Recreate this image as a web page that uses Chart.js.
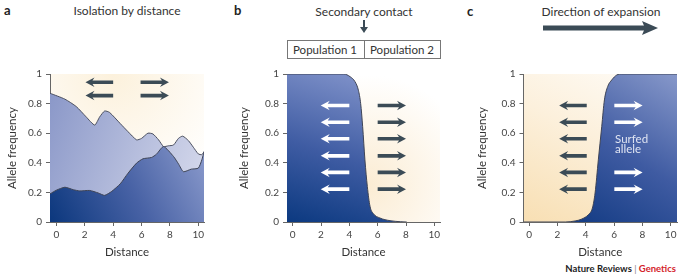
<!DOCTYPE html>
<html>
<head>
<meta charset="utf-8">
<script src="https://cdn.jsdelivr.net/npm/chart.js@4.4.1/dist/chart.umd.min.js"></script>
<style>
  body { margin: 0; width: 685px; height: 279px; position: relative; overflow: hidden; background: #fff;
         font-family: Lato, "Open Sans", sans-serif; color: #333; }
  canvas { position: absolute; top: 60px; }
  .txt { position: absolute; white-space: nowrap; line-height: 1; }
  .mid { transform: translateX(-50%); }
  .tag { font-weight: bold; font-size: 13px; color: #222; }
  .head { font-size: 12px; }
  .box { position: absolute; left: 287px; top: 40px; width: 154px; height: 19px; box-sizing: border-box;
         border: 1px solid #777; }
  .box .sep { position: absolute; left: 76px; top: 0; bottom: 0; border-left: 1px solid #777; }
  .foot { position: absolute; right: 9px; top: 264px; font-size: 9.5px; font-weight: bold; color: #222; line-height: 1; }
  .foot .red { color: #d4242b; }
</style>
</head>
<body>
<div class="txt tag" style="left:4px;top:4px">a</div>
<div class="txt head mid" style="left:127px;top:5px">Isolation by distance</div>

<div class="txt tag" style="left:234px;top:4px">b</div>
<div class="txt head mid" style="left:364px;top:6px">Secondary contact</div>
<svg style="position:absolute;left:358px;top:19px" width="12" height="15">
  <rect x="5" y="1" width="2" height="8" fill="#3b4b56"/>
  <polygon points="2,8 10,8 6,14" fill="#3b4b56"/>
</svg>
<div class="box"><div class="sep"></div></div>
<div class="txt head mid" style="left:325px;top:44px;font-size:11.5px">Population 1</div>
<div class="txt head mid" style="left:402px;top:44px;font-size:11.5px">Population 2</div>

<div class="txt tag" style="left:467px;top:5px">c</div>
<div class="txt head mid" style="left:601px;top:6px">Direction of expansion</div>
<svg style="position:absolute;left:540px;top:19px" width="122" height="18">
  <rect x="3" y="6.5" width="104" height="5" fill="#3b4b56"/>
  <polygon points="102,2 118,9 102,16 105,9" fill="#3b4b56"/>
</svg>

<canvas id="chartA" width="230" height="200" style="left:0px"></canvas>
<canvas id="chartB" width="220" height="200" style="left:232px"></canvas>
<canvas id="chartC" width="215" height="200" style="left:470px"></canvas>

<div class="foot">Nature Reviews <span style="font-weight:normal;color:#888">|</span> <span class="red">Genetics</span></div>

<script>
// valores
const xTicks = [0, 2, 4, 6, 8, 10];
const yTicks = [0, 0.2, 0.4, 0.6, 0.8, 1];

// painel a: duas populações
const distA1 = [-0.45, 0.6, 1.4, 2.1, 2.7, 3.05, 3.4, 3.75, 4.5, 5.05, 5.65, 6.0, 6.45, 6.8, 7.2, 7.55, 7.9, 8.25, 8.6, 8.9, 9.3, 9.65, 10.0, 10.25, 10.4];
const freqA1 = [0.87, 0.83, 0.78, 0.71, 0.655, 0.71, 0.75, 0.74, 0.665, 0.61, 0.555, 0.565, 0.6, 0.595, 0.555, 0.51, 0.515, 0.52, 0.565, 0.58, 0.55, 0.505, 0.46, 0.455, 0.475];
const distA2 = [-0.45, 0, 0.6, 1.2, 1.65, 2.35, 2.95, 3.4, 3.9, 4.5, 5.05, 5.65, 6.1, 6.7, 7.05, 7.55, 8.25, 8.6, 8.95, 9.5, 10.0, 10.25, 10.4];
const freqA2 = [0.19, 0.215, 0.235, 0.218, 0.21, 0.213, 0.196, 0.18, 0.207, 0.258, 0.33, 0.398, 0.427, 0.436, 0.458, 0.51, 0.443, 0.393, 0.34, 0.357, 0.364, 0.42, 0.476];

// painel b: contato secundário
const distB = [-0.4, 3.6, 4.05, 4.4, 4.64, 4.8, 4.94, 5.1, 5.27, 5.46, 5.7, 6.16, 6.87, 7.6, 8.05];
const freqB = [1, 1, 0.982, 0.948, 0.89, 0.8, 0.645, 0.42, 0.24, 0.106, 0.056, 0.027, 0.009, 0.002, 0];

// painel c: alelo surfando na expansão
const distC = [-0.4, 2.55, 3.25, 3.72, 4.19, 4.47, 4.66, 4.89, 5.13, 5.32, 5.55, 5.84, 6.19, 6.54, 10.45];
const freqC = [0, 0, 0.007, 0.02, 0.05, 0.094, 0.196, 0.42, 0.645, 0.825, 0.915, 0.96, 0.993, 1, 1];

// setas (em coordenadas dos dados)
const arrowRowsA = [0.944, 0.854];
const arrowRows = [0.787, 0.674, 0.562, 0.447, 0.335, 0.222];
const arrowRowsSurf = [0.787, 0.674, 0.335, 0.222];

const DARK = "#3b4b56";
Chart.defaults.font.family = "Lato, 'Open Sans', sans-serif";
Chart.defaults.color = "#444";

function points(xs, ys) {
  return xs.map((x, i) => ({ x: x, y: ys[i] }));
}

function drawArrow(ctx, x0, x1, y, color) {
  const dir = Math.sign(x1 - x0);
  const headL = 9, headW = 9.5, shaft = 3.6;
  const xb = x1 - dir * headL;
  ctx.fillStyle = color;
  ctx.beginPath();
  ctx.moveTo(x0, y - shaft / 2);
  ctx.lineTo(xb + dir * 2, y - shaft / 2);
  ctx.lineTo(xb, y - headW / 2);
  ctx.lineTo(x1, y);
  ctx.lineTo(xb, y + headW / 2);
  ctx.lineTo(xb + dir * 2, y + shaft / 2);
  ctx.lineTo(x0, y + shaft / 2);
  ctx.closePath();
  ctx.fill();
}

// fundo do painel + setas + textos
const decorPlugin = {
  id: "decor",
  beforeDraw(chart, args, opts) {
    if (!opts.background) return;
    const { ctx, chartArea } = chart;
    ctx.save();
    ctx.fillStyle = opts.background(chart);
    ctx.fillRect(chartArea.left, chartArea.top, chartArea.width, chartArea.height);
    ctx.restore();
  },
  afterDatasetsDraw(chart, args, opts) {
    const { ctx, scales } = chart;
    ctx.save();
    (opts.arrows || []).forEach((a) => {
      a.rows.forEach((r) => {
        drawArrow(ctx, scales.x.getPixelForValue(a.from), scales.x.getPixelForValue(a.to), scales.y.getPixelForValue(r), a.color);
      });
    });
    (opts.labels || []).forEach((l) => {
      ctx.font = "11.5px Lato, 'Open Sans', sans-serif";
      ctx.fillStyle = l.color;
      ctx.textAlign = "left";
      ctx.textBaseline = "middle";
      ctx.fillText(l.text, scales.x.getPixelForValue(l.x), scales.y.getPixelForValue(l.y));
    });
    ctx.restore();
  },
};

function makeOptions(xMin, xMax, yWidth, padRight, decor) {
  return {
    responsive: false,
    animation: false,
    devicePixelRatio: 1,
    layout: { padding: { left: 0, top: 14, right: padRight, bottom: 0 } },
    plugins: { legend: { display: false }, tooltip: { enabled: false }, decor: decor },
    elements: { point: { radius: 0 } },
    scales: {
      x: {
        type: "linear",
        min: xMin,
        max: xMax,
        afterBuildTicks: (s) => { s.ticks = xTicks.map((v) => ({ value: v })); },
        afterFit: (s) => { s.height = 38; },
        grid: { drawOnChartArea: false, color: "#666", tickLength: 4 },
        border: { color: "#666" },
        ticks: { font: { size: 10 }, padding: 3, maxRotation: 0 },
        title: { display: true, text: "Distance", font: { size: 11.5 }, color: "#333", padding: { top: 0, bottom: 1 } },
      },
      y: {
        min: 0,
        max: 1,
        afterBuildTicks: (s) => { s.ticks = yTicks.map((v) => ({ value: v })); },
        afterFit: (s) => { s.width = yWidth; },
        grid: { drawOnChartArea: false, color: "#666", tickLength: 4 },
        border: { color: "#666" },
        ticks: {
          font: { size: 10 },
          padding: 4,
          callback: (v) => (v === 0 || v === 1 ? String(v) : v.toFixed(1)),
        },
        title: { display: true, text: "Allele frequency", font: { size: 11.5 }, color: "#333", padding: { top: 5, bottom: 0 } },
      },
    },
  };
}

function grad(chart, x0, y0, x1, y1, stops) {
  const { x, y } = chart.scales;
  const g = chart.ctx.createLinearGradient(x.getPixelForValue(x0), y.getPixelForValue(y0), x.getPixelForValue(x1), y.getPixelForValue(y1));
  stops.forEach((s) => g.addColorStop(s[0], s[1]));
  return g;
}

function radial(chart, cx, cy, r, inner, outer) {
  const { x, y } = chart.scales;
  const px = x.getPixelForValue(cx), py = y.getPixelForValue(cy);
  const g = chart.ctx.createRadialGradient(px, py, 0, px, py, r);
  g.addColorStop(0, inner);
  g.addColorStop(1, outer);
  return g;
}

function fillWith(fn) {
  return (context) => {
    const chart = context.chart;
    if (!chart.chartArea) return "#5a70b0";
    return fn(chart);
  };
}

// Painel a
new Chart(document.getElementById("chartA"), {
  type: "line",
  data: {
    datasets: [
      {
        data: points(distA2, freqA2),
        borderColor: "#3e4456",
        borderWidth: 1,
        tension: 0.2,
        fill: "origin",
        backgroundColor: fillWith((c) => grad(c, -0.45, 0, 10.4, 0.55, [[0, "#0b377d"], [0.5, "#4862a5"], [1, "#8e9dce"]])),
      },
      {
        data: points(distA1, freqA1),
        borderColor: "#4a4f60",
        borderWidth: 1,
        tension: 0.2,
        fill: "origin",
        backgroundColor: fillWith((c) => grad(c, -0.45, 0.8, 10.4, 0.4, [[0, "#8c99c9"], [1, "#d2d6ea"]])),
      },
    ],
  },
  options: makeOptions(-0.45, 10.4, 50, 26, {
    background: (c) => radial(c, 4, 1, 130, "#fcf1dc", "#ffffff"),
    arrows: [
      { from: 4.0, to: 2.05, rows: arrowRowsA, color: DARK },
      { from: 5.93, to: 7.93, rows: arrowRowsA, color: DARK },
    ],
  }),
  plugins: [decorPlugin],
});

// Painel b
new Chart(document.getElementById("chartB"), {
  type: "line",
  data: {
    datasets: [
      {
        data: points(distB, freqB),
        borderColor: "#3e4456",
        borderWidth: 1,
        cubicInterpolationMode: "monotone",
        fill: "origin",
        backgroundColor: fillWith((c) => grad(c, -0.4, 0, 3, 1, [[0, "#0b3980"], [0.5, "#3f5ca3"], [1, "#7a8dc6"]])),
      },
    ],
  },
  options: makeOptions(-0.4, 10.4, 55, 12, {
    background: (c) => radial(c, 5.3, 0.25, 110, "#fbecd3", "#ffffff"),
    arrows: [
      { from: 4.0, to: 1.98, rows: arrowRows, color: "#ffffff" },
      { from: 6.0, to: 8.0, rows: arrowRows, color: DARK },
    ],
  }),
  plugins: [decorPlugin],
});

// Painel c
new Chart(document.getElementById("chartC"), {
  type: "line",
  data: {
    datasets: [
      {
        data: points(distC, freqC),
        borderColor: "#3e4456",
        borderWidth: 1,
        cubicInterpolationMode: "monotone",
        fill: "origin",
        backgroundColor: fillWith((c) => grad(c, 4, 0, 10.45, 1, [[0, "#173e86"], [0.45, "#3f5ba2"], [1, "#8798ca"]])),
      },
    ],
  },
  options: makeOptions(-0.4, 10.45, 53.5, 8, {
    background: (c) => grad(c, -0.4, 0, 5, 1.1, [[0, "#f8dfb3"], [0.6, "#fcf0dc"], [1, "#fefaf3"]]),
    arrows: [
      { from: 4.07, to: 2.12, rows: arrowRows, color: DARK },
      { from: 6.02, to: 8.02, rows: arrowRowsSurf, color: "#ffffff" },
    ],
    labels: [
      { text: "Surfed", x: 6.07, y: 0.562, color: "#dfe4f2" },
      { text: "allele", x: 6.07, y: 0.49, color: "#dfe4f2" },
    ],
  }),
  plugins: [decorPlugin],
});
</script>
</body>
</html>
